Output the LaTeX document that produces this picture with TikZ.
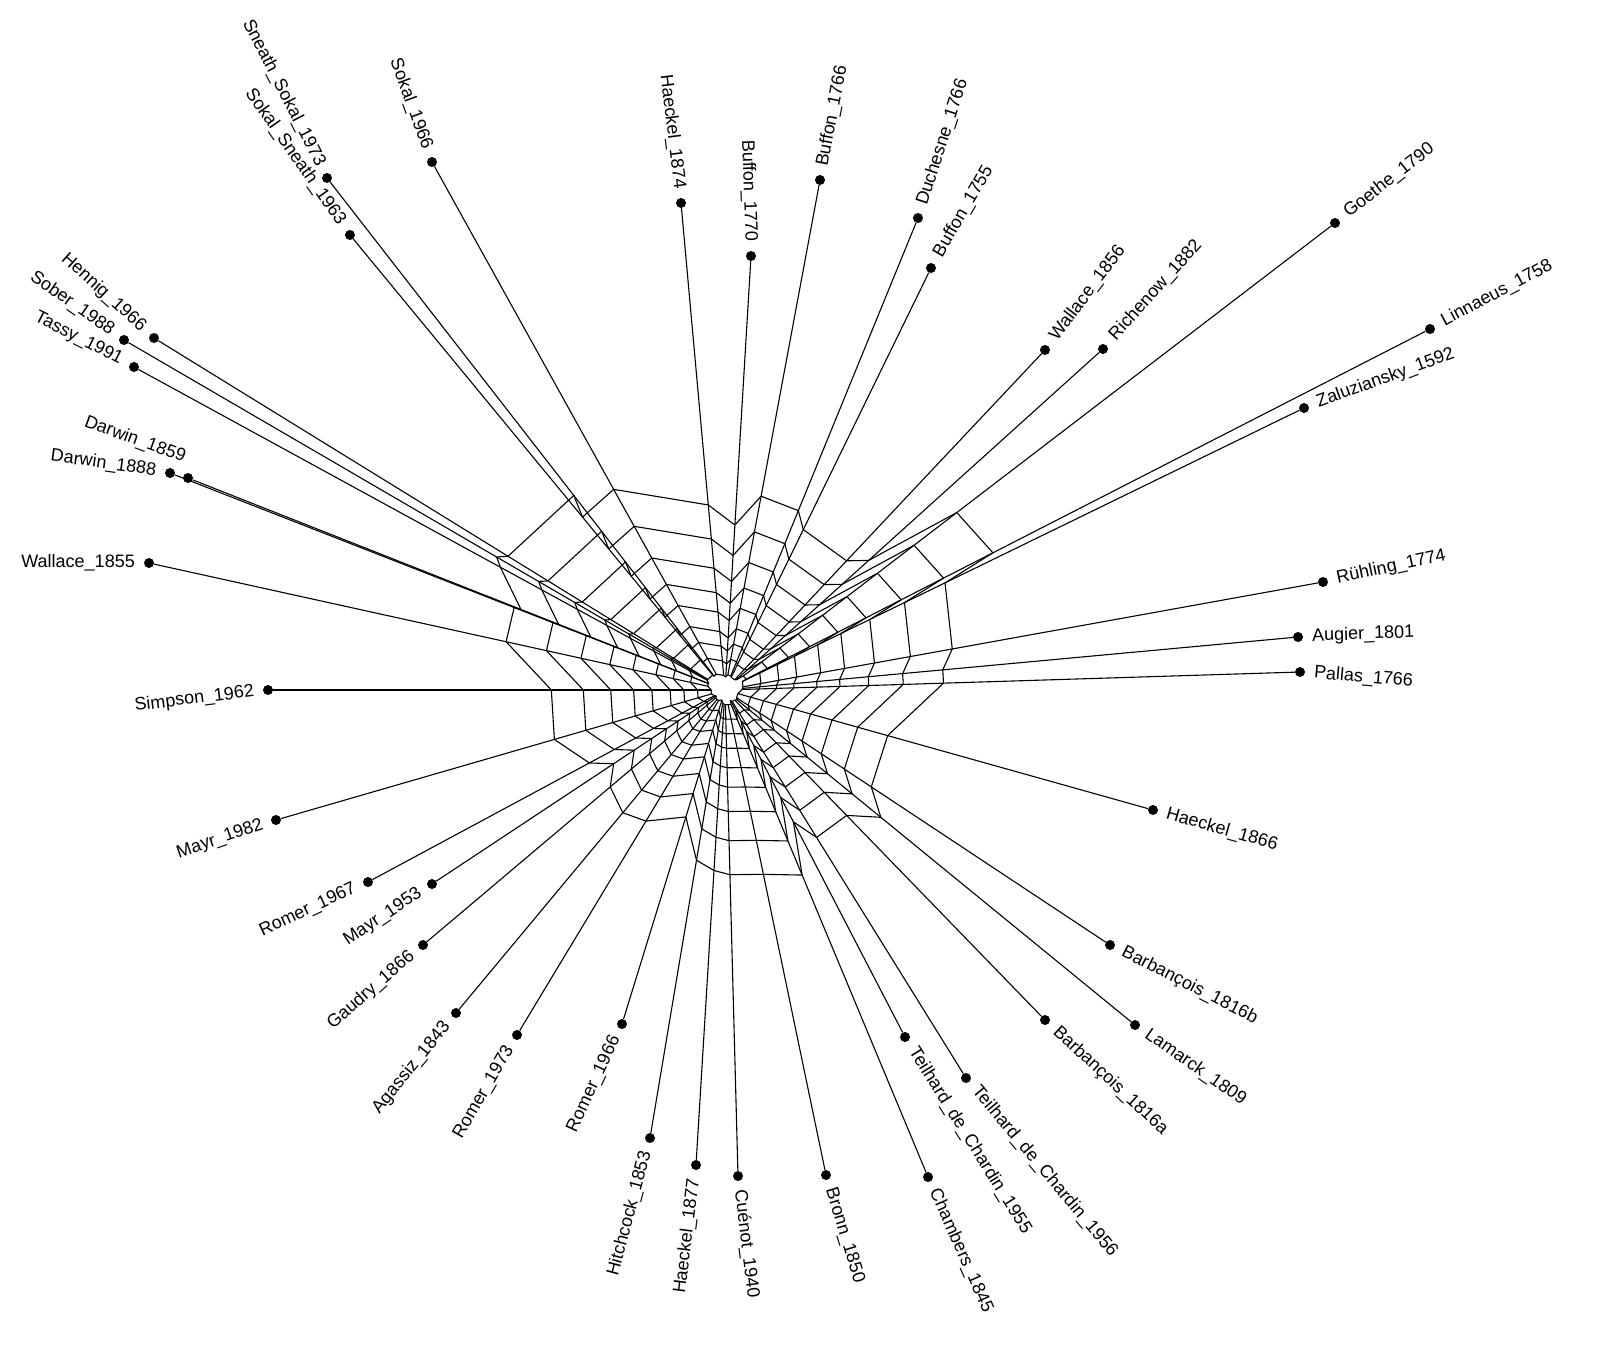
\documentclass[tikz,border=0pt]{standalone}
\usepackage{fontspec}
\setmainfont{Liberation Sans}
\usetikzlibrary{calc}
\tikzset{dot/.style={circle,fill=black,inner sep=0pt,minimum size=10pt},
 lab/.style={inner sep=0pt,font=\fontsize{18}{20}\selectfont},
 net/.style={line width=1.1pt,black}}
\newcommand{\leafL}[6]{\node[dot] (l#1) at (#2,#3) {};\node[lab,rotate=#4,anchor=east] (t#1) at ($(l#1)+({-14*cos(#4)},{14*sin(#4)})$) {#5#6};}
\newcommand{\leafR}[6]{\node[dot] (l#1) at (#2,#3) {};\node[lab,rotate=#4,anchor=west] (t#1) at ($(l#1)+({14*cos(#4)},{-14*sin(#4)})$) {#5#6};}
\begin{document}
\begin{tikzpicture}[x=1pt,y=-1pt]
\useasboundingbox (0,0) rectangle (1600,1359);
\coordinate (c) at (725,690);
\leafL{1}{149}{563}{0}{Wallace\_1855}{}
\leafL{2}{170}{473}{-8}{Darwin\_1888}{}
\node[dot] (l3) at (188,478) {};
\node[lab,rotate=-20,anchor=east] (t3) at (185,458) {Darwin\_1859};
\leafL{4}{134}{367}{-27}{Tassy\_1991}{}
\leafL{5}{124}{340}{-35}{Sober\_1988}{}
\leafL{6}{154}{338}{-42}{Hennig\_1966}{}
\leafL{7}{327}{178}{-63}{Sneath\_Sokal\_1973}{}
\leafL{8}{350}{235}{-55}{Sokal\_Sneath\_1963}{}
\leafL{9}{432}{162}{-70}{Sokal\_1966}{}
\leafL{10}{681}{203}{-83}{Haeckel\_1874}{}
\leafL{11}{751}{256}{-88}{Buffon\_1770}{}
\leafR{12}{820}{180}{79}{Buffon\_1766}{}
\leafR{13}{918}{218}{72}{Duchesne\_1766}{}
\leafR{14}{931}{268}{60}{Buffon\_1755}{}
\leafR{15}{1045}{350}{53}{Wallace\_1856}{}
\leafR{16}{1103}{349}{48}{Richenow\_1882}{}
\leafR{17}{1335}{223}{38}{Goethe\_1790}{}
\leafR{18}{1430}{329}{28}{Linnaeus\_1758}{}
\leafR{19}{1304}{408}{20}{Zaluziansky\_1592}{}
\leafR{20}{1323}{582}{12}{Rühling\_1774}{}
\leafR{21}{1298}{637}{2}{Augier\_1801}{}
\leafR{22}{1300}{672}{-5}{Pallas\_1766}{}
\leafR{23}{1153}{810}{-16}{Haeckel\_1866}{}
\leafR{24}{1110}{945}{-27}{Barbançois\_1816b}{}
\leafR{25}{1135}{1025}{-35}{Lamarck\_1809}{}
\leafR{26}{1045}{1020}{-43}{Barbançois\_1816a}{}
\leafR{27}{966}{1078}{-50}{Teilhard\_de\_Chardin\_1956}{}
\leafR{28}{905}{1037}{-58}{Teilhard\_de\_Chardin\_1955}{}
\leafR{29}{928}{1177}{-66}{Chambers\_1845}{}
\leafR{30}{826}{1175}{-73}{Bronn\_1850}{}
\leafR{31}{738}{1176}{-83}{Cuénot\_1940}{}
\leafL{32}{696}{1165}{83}{Haeckel\_1877}{}
\leafL{33}{650}{1138}{75}{Hitchcock\_1853}{}
\leafL{34}{622}{1024}{65}{Romer\_1966}{}
\leafL{35}{517}{1035}{60}{Romer\_1973}{}
\leafL{36}{456}{1013}{51}{Agassiz\_1843}{}
\leafL{37}{423}{945}{41}{Gaudry\_1866}{}
\leafL{38}{432}{884}{34}{Mayr\_1953}{}
\leafL{39}{368}{882}{25}{Romer\_1967}{}
\leafL{40}{276}{820}{19}{Mayr\_1982}{}
\leafL{41}{268}{690}{7}{Simpson\_1962}{}
\foreach \i in {1,...,41}{
  \draw[net] ($(c)!0.03!(l\i)$) -- (l\i);
}
\foreach \f in {0.03,0.06,0.09,0.12,0.16,0.2,0.25,0.31,0.38}{
  \foreach \i [evaluate=\i as \j using {int(mod(\i,41)+1)}] in {1,...,41}{
    \draw[net] ($(c)!\f!(l\i)$) -- ($(c)!\f!(l\j)$);
  }
}
\end{tikzpicture}
\end{document}
